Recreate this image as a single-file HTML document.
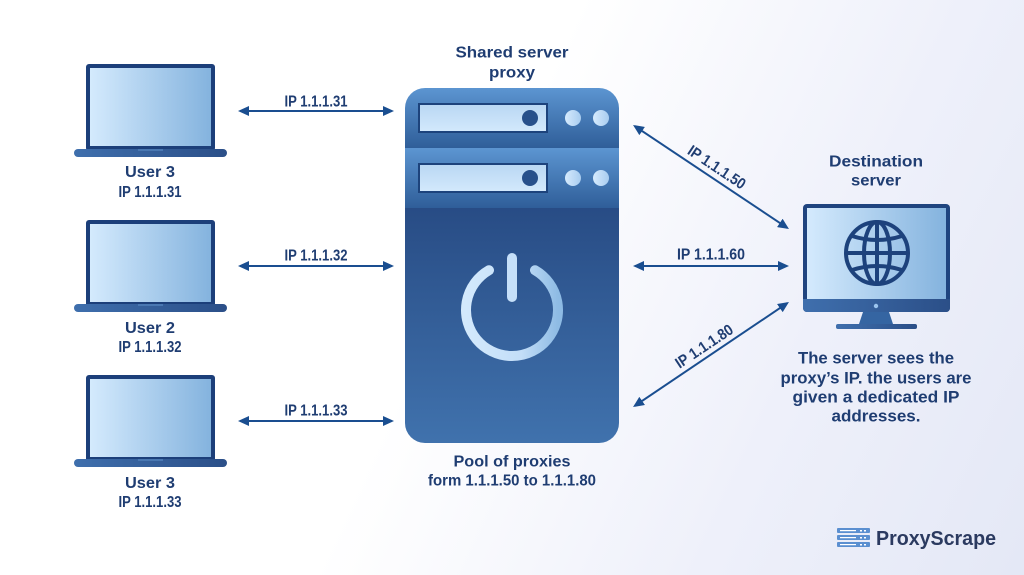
<!DOCTYPE html>
<html><head><meta charset="utf-8"><style>
html,body{margin:0;padding:0;width:1024px;height:575px;overflow:hidden}
body{background:linear-gradient(115deg,#ffffff 0%,#ffffff 45%,#eef0fa 75%,#e4e8f6 100%)}
svg{display:block}
text{font-family:"Liberation Sans",sans-serif;font-weight:bold;fill:#1f3d72}
</style></head><body>
<svg width="1024" height="575" viewBox="0 0 1024 575" xmlns="http://www.w3.org/2000/svg">
<defs>
<linearGradient id="scr" x1="0" y1="0" x2="1" y2="0"><stop offset="0" stop-color="#d4eafd"/><stop offset="1" stop-color="#84b3de"/></linearGradient>
<linearGradient id="base" x1="0" y1="0" x2="1" y2="0"><stop offset="0" stop-color="#3f6fad"/><stop offset="1" stop-color="#2b4f88"/></linearGradient>
<linearGradient id="sec" x1="0" y1="0" x2="0" y2="1"><stop offset="0" stop-color="#5c95d1"/><stop offset="1" stop-color="#2f5e99"/></linearGradient>
<linearGradient id="main" x1="0" y1="0" x2="0" y2="1"><stop offset="0" stop-color="#284c85"/><stop offset="1" stop-color="#4072ad"/></linearGradient>
<linearGradient id="slot" x1="0" y1="0" x2="0" y2="1"><stop offset="0" stop-color="#b9d7f3"/><stop offset="1" stop-color="#d3e9fc"/></linearGradient>
<linearGradient id="led" x1="0" y1="0" x2="1" y2="0"><stop offset="0" stop-color="#d6ebfd"/><stop offset="1" stop-color="#a8ccef"/></linearGradient>
<linearGradient id="pw" x1="0" y1="0" x2="1" y2="0"><stop offset="0" stop-color="#d3e9fc"/><stop offset="0.6" stop-color="#c3def8"/><stop offset="1" stop-color="#8ebbe4"/></linearGradient>
<clipPath id="srv"><rect x="405" y="88" width="214" height="355" rx="20"/></clipPath>
<marker id="ah" viewBox="0 0 11 10" markerWidth="11" markerHeight="10" refX="9" refY="5" orient="auto-start-reverse" markerUnits="userSpaceOnUse"><path d="M0,0 L11,5 L0,10 z" fill="#1a4e90"/></marker>
</defs>

<!-- Laptops -->
<g>
<rect x="86" y="64" width="129" height="87" rx="3" fill="#1c3f7a"/>
<rect x="90" y="68" width="121" height="78" fill="url(#scr)"/>
<rect x="74" y="149" width="153" height="8" rx="4" fill="url(#base)"/>
<rect x="138" y="149" width="25" height="2" fill="#4a78b2"/>
</g>
<g>
<rect x="86" y="220" width="129" height="87" rx="3" fill="#1c3f7a"/>
<rect x="90" y="224" width="121" height="78" fill="url(#scr)"/>
<rect x="74" y="304" width="153" height="8" rx="4" fill="url(#base)"/>
<rect x="138" y="304" width="25" height="2" fill="#4a78b2"/>
</g>
<g>
<rect x="86" y="375" width="129" height="87" rx="3" fill="#1c3f7a"/>
<rect x="90" y="379" width="121" height="78" fill="url(#scr)"/>
<rect x="74" y="459" width="153" height="8" rx="4" fill="url(#base)"/>
<rect x="138" y="459" width="25" height="2" fill="#4a78b2"/>
</g>

<!-- laptop labels -->
<text x="150" y="177" font-size="16" text-anchor="middle" textLength="50" lengthAdjust="spacingAndGlyphs">User 3</text>
<text x="150" y="197" font-size="16" text-anchor="middle" textLength="63" lengthAdjust="spacingAndGlyphs">IP 1.1.1.31</text>
<text x="150" y="333" font-size="16" text-anchor="middle" textLength="50" lengthAdjust="spacingAndGlyphs">User 2</text>
<text x="150" y="352" font-size="16" text-anchor="middle" textLength="63" lengthAdjust="spacingAndGlyphs">IP 1.1.1.32</text>
<text x="150" y="488" font-size="16" text-anchor="middle" textLength="50" lengthAdjust="spacingAndGlyphs">User 3</text>
<text x="150" y="507" font-size="16" text-anchor="middle" textLength="63" lengthAdjust="spacingAndGlyphs">IP 1.1.1.33</text>

<!-- left arrows -->
<line x1="240" y1="111" x2="392" y2="111" stroke="#1a4e90" stroke-width="2" marker-start="url(#ah)" marker-end="url(#ah)"/>
<line x1="240" y1="266" x2="392" y2="266" stroke="#1a4e90" stroke-width="2" marker-start="url(#ah)" marker-end="url(#ah)"/>
<line x1="240" y1="421" x2="392" y2="421" stroke="#1a4e90" stroke-width="2" marker-start="url(#ah)" marker-end="url(#ah)"/>
<text x="316" y="106.5" font-size="15.5" text-anchor="middle" textLength="63" lengthAdjust="spacingAndGlyphs">IP 1.1.1.31</text>
<text x="316" y="260.5" font-size="15.5" text-anchor="middle" textLength="63" lengthAdjust="spacingAndGlyphs">IP 1.1.1.32</text>
<text x="316" y="415.5" font-size="15.5" text-anchor="middle" textLength="63" lengthAdjust="spacingAndGlyphs">IP 1.1.1.33</text>

<!-- Server -->
<text x="512" y="57.5" font-size="16" text-anchor="middle" textLength="113" lengthAdjust="spacingAndGlyphs">Shared server</text>
<text x="512" y="77.5" font-size="16" text-anchor="middle" textLength="46" lengthAdjust="spacingAndGlyphs">proxy</text>
<g clip-path="url(#srv)">
<rect x="405" y="88" width="214" height="60" fill="url(#sec)"/>
<rect x="405" y="148" width="214" height="60" fill="url(#sec)"/>
<rect x="405" y="208" width="214" height="235" fill="url(#main)"/>
</g>
<rect x="419" y="104" width="128" height="28" fill="url(#slot)" stroke="#1d437c" stroke-width="2"/>
<circle cx="530" cy="118" r="8" fill="#27508b"/>
<circle cx="573" cy="118" r="8" fill="url(#led)"/>
<circle cx="601" cy="118" r="8" fill="url(#led)"/>
<rect x="419" y="164" width="128" height="28" fill="url(#slot)" stroke="#1d437c" stroke-width="2"/>
<circle cx="530" cy="178" r="8" fill="#27508b"/>
<circle cx="573" cy="178" r="8" fill="url(#led)"/>
<circle cx="601" cy="178" r="8" fill="url(#led)"/>
<!-- power icon -->
<path d="M535,270.2 A46,46 0 1 1 489,270.2" fill="none" stroke="url(#pw)" stroke-width="10" stroke-linecap="round"/>
<line x1="512" y1="258" x2="512" y2="297" stroke="#c6e0f9" stroke-width="10" stroke-linecap="round"/>

<text x="512" y="466.5" font-size="16" text-anchor="middle" textLength="117" lengthAdjust="spacingAndGlyphs">Pool of proxies</text>
<text x="512" y="485.5" font-size="16" text-anchor="middle" textLength="168" lengthAdjust="spacingAndGlyphs">form 1.1.1.50 to 1.1.1.80</text>

<!-- right arrows -->
<line x1="634.7" y1="126.1" x2="787.3" y2="227.9" stroke="#1a4e90" stroke-width="2" marker-start="url(#ah)" marker-end="url(#ah)"/>
<line x1="635" y1="266" x2="787" y2="266" stroke="#1a4e90" stroke-width="2" marker-start="url(#ah)" marker-end="url(#ah)"/>
<line x1="634.7" y1="405.9" x2="787.3" y2="303.1" stroke="#1a4e90" stroke-width="2" marker-start="url(#ah)" marker-end="url(#ah)"/>
<text x="711" y="259.5" font-size="15.5" text-anchor="middle" textLength="68" lengthAdjust="spacingAndGlyphs">IP 1.1.1.60</text>
<text transform="translate(717,167) rotate(33.7)" x="0" y="5.5" font-size="15.5" text-anchor="middle" textLength="66" lengthAdjust="spacingAndGlyphs">IP 1.1.1.50</text>
<text transform="translate(704,346) rotate(-33.7)" x="0" y="5.5" font-size="15.5" text-anchor="middle" textLength="66" lengthAdjust="spacingAndGlyphs">IP 1.1.1.80</text>

<!-- Destination -->
<text x="876" y="166.5" font-size="16" text-anchor="middle" textLength="94" lengthAdjust="spacingAndGlyphs">Destination</text>
<text x="876" y="185.5" font-size="16" text-anchor="middle" textLength="50" lengthAdjust="spacingAndGlyphs">server</text>
<rect x="803" y="204" width="147" height="108" rx="4" fill="#1f447f"/>
<rect x="807" y="208" width="139" height="91" fill="url(#scr)"/>
<path d="M803,299 H950 V308 a4,4 0 0 1 -4,4 H807 a4,4 0 0 1 -4,-4 z" fill="url(#base)"/>
<circle cx="876" cy="306" r="2.2" fill="#9cc5ee"/>
<path d="M863,312 H889 L893,324 H859 z" fill="#3565a2"/>
<rect x="836" y="324" width="81" height="5" rx="2" fill="url(#base)"/>
<!-- globe -->
<g fill="none" stroke="#1d427c" stroke-width="4">
<circle cx="877" cy="253" r="31"/>
<ellipse cx="877" cy="253" rx="13" ry="31"/>
<line x1="877" y1="222" x2="877" y2="284"/>
<line x1="846" y1="253" x2="908" y2="253"/>
<path d="M852,236 Q877,244 902,236"/>
<path d="M852,270 Q877,262 902,270"/>
</g>

<text x="876" y="363.5" font-size="16.5" text-anchor="middle" textLength="156" lengthAdjust="spacingAndGlyphs">The server sees the</text>
<text x="876" y="383.5" font-size="16.5" text-anchor="middle" textLength="191" lengthAdjust="spacingAndGlyphs">proxy’s IP. the users are</text>
<text x="876" y="402.5" font-size="16.5" text-anchor="middle" textLength="167" lengthAdjust="spacingAndGlyphs">given a dedicated IP</text>
<text x="876" y="421.5" font-size="16.5" text-anchor="middle" textLength="89" lengthAdjust="spacingAndGlyphs">addresses.</text>

<!-- logo -->
<g fill="#5b8fd0">
<rect x="837" y="528" width="33" height="5" rx="1"/>
<rect x="837" y="535" width="33" height="5" rx="1"/>
<rect x="837" y="542" width="33" height="5" rx="1"/>
</g>
<g fill="#ffffff">
<rect x="840" y="530" width="16" height="1.2"/><rect x="860" y="530" width="2" height="1.5"/><rect x="864" y="530" width="2" height="1.5"/>
<rect x="840" y="537" width="16" height="1.2"/><rect x="860" y="537" width="2" height="1.5"/><rect x="864" y="537" width="2" height="1.5"/>
<rect x="840" y="544" width="16" height="1.2"/><rect x="860" y="544" width="2" height="1.5"/><rect x="864" y="544" width="2" height="1.5"/>
</g>
<text x="876" y="545" font-size="20" style="fill:#2b3a60" textLength="120" lengthAdjust="spacingAndGlyphs">ProxyScrape</text>
</svg>
</body></html>
